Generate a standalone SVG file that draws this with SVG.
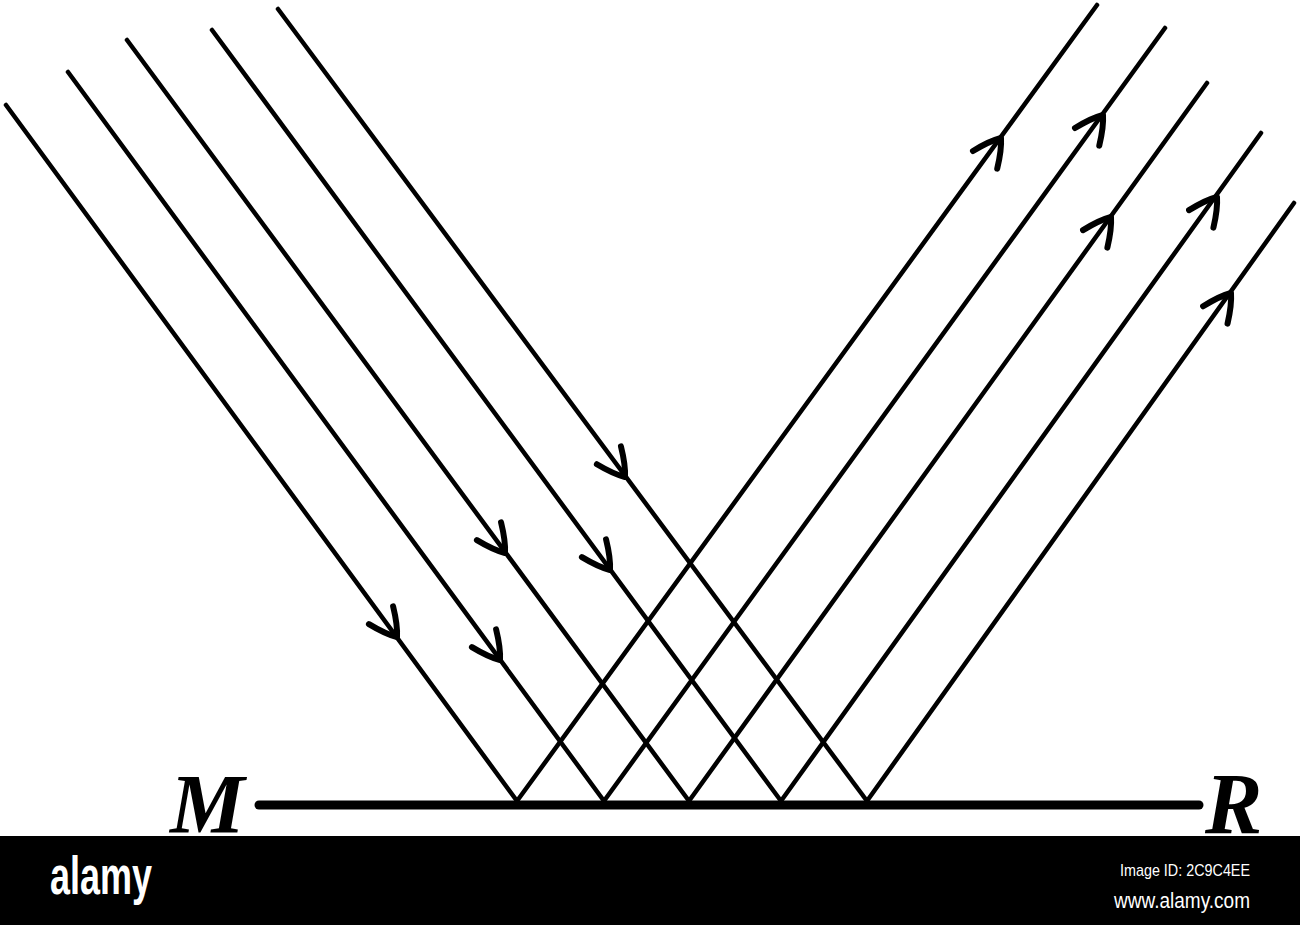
<svg xmlns="http://www.w3.org/2000/svg" xmlns:xlink="http://www.w3.org/1999/xlink" width="1300" height="925" viewBox="0 0 1300 925">
  <style>
    .ray { stroke: #000; stroke-width: 4.5; stroke-linecap: round; fill: none; }
    .arw { stroke: #000; stroke-width: 6; stroke-linecap: round; stroke-linejoin: round; fill: none; }
    .mirror { stroke: #000; stroke-width: 9; stroke-linecap: round; }
    .lbl { font-family: "Liberation Serif", "DejaVu Serif", serif; font-style: italic; font-weight: bold; fill: #000; }
    .wm { font-family: "Liberation Sans Narrow", "Liberation Sans", Arial, sans-serif; fill: #fff; }
  </style>
  <defs>
    <path id="arrowhead" class="arw" d="M-27,-15 C-15,-10 -6,-5 0,0 C-6,5 -15,10 -27,15"/>
  </defs>
  <rect x="0" y="0" width="1300" height="925" fill="#fff"/>

  <g id="connectors">
    <!-- incident rays -->
    <line class="ray" x1="6" y1="105" x2="517" y2="801"/>
    <line class="ray" x1="68" y1="72" x2="604" y2="801"/>
    <line class="ray" x1="127" y1="40" x2="689" y2="801"/>
    <line class="ray" x1="212" y1="30" x2="781" y2="801"/>
    <line class="ray" x1="278" y1="9" x2="867" y2="801"/>
    <!-- reflected rays -->
    <line class="ray" x1="517" y1="801" x2="1097" y2="5"/>
    <line class="ray" x1="604" y1="801" x2="1165" y2="28"/>
    <line class="ray" x1="689" y1="801" x2="1207" y2="83"/>
    <line class="ray" x1="781" y1="801" x2="1261" y2="133"/>
    <line class="ray" x1="867" y1="801" x2="1294" y2="203"/>
    <!-- arrowheads incident -->
    <use xlink:href="#arrowhead" transform="translate(397,637) rotate(53.7)"/>
    <use xlink:href="#arrowhead" transform="translate(500,660) rotate(53.7)"/>
    <use xlink:href="#arrowhead" transform="translate(505,553) rotate(53.6)"/>
    <use xlink:href="#arrowhead" transform="translate(610,570) rotate(53.6)"/>
    <use xlink:href="#arrowhead" transform="translate(625,477) rotate(53.4)"/>
    <!-- arrowheads reflected -->
    <use xlink:href="#arrowhead" transform="translate(1001,138) rotate(-53.9)"/>
    <use xlink:href="#arrowhead" transform="translate(1103,115) rotate(-54.0)"/>
    <use xlink:href="#arrowhead" transform="translate(1111,217) rotate(-54.2)"/>
    <use xlink:href="#arrowhead" transform="translate(1217,197) rotate(-54.3)"/>
    <use xlink:href="#arrowhead" transform="translate(1231,293) rotate(-54.5)"/>
  </g>

  <g id="mirror">
    <line class="mirror" x1="259" y1="805" x2="1199" y2="805"/>
  </g>
  <g id="label-M">
    <text class="lbl" x="170" y="833" font-size="84">M</text>
  </g>
  <g id="label-R">
    <text class="lbl" x="1205" y="833" font-size="86">R</text>
  </g>

  <g id="watermark-band">
    <rect x="0" y="836" width="1300" height="89" fill="#000"/>
    <text class="wm" x="50" y="894" font-size="54" font-weight="bold" textLength="102" lengthAdjust="spacingAndGlyphs">alamy</text>
    <text class="wm" x="1250" y="876" font-size="17" text-anchor="end" textLength="130" lengthAdjust="spacingAndGlyphs">Image ID: 2C9C4EE</text>
    <text class="wm" x="1250" y="908" font-size="22" text-anchor="end" textLength="136" lengthAdjust="spacingAndGlyphs">www.alamy.com</text>
  </g>
</svg>
